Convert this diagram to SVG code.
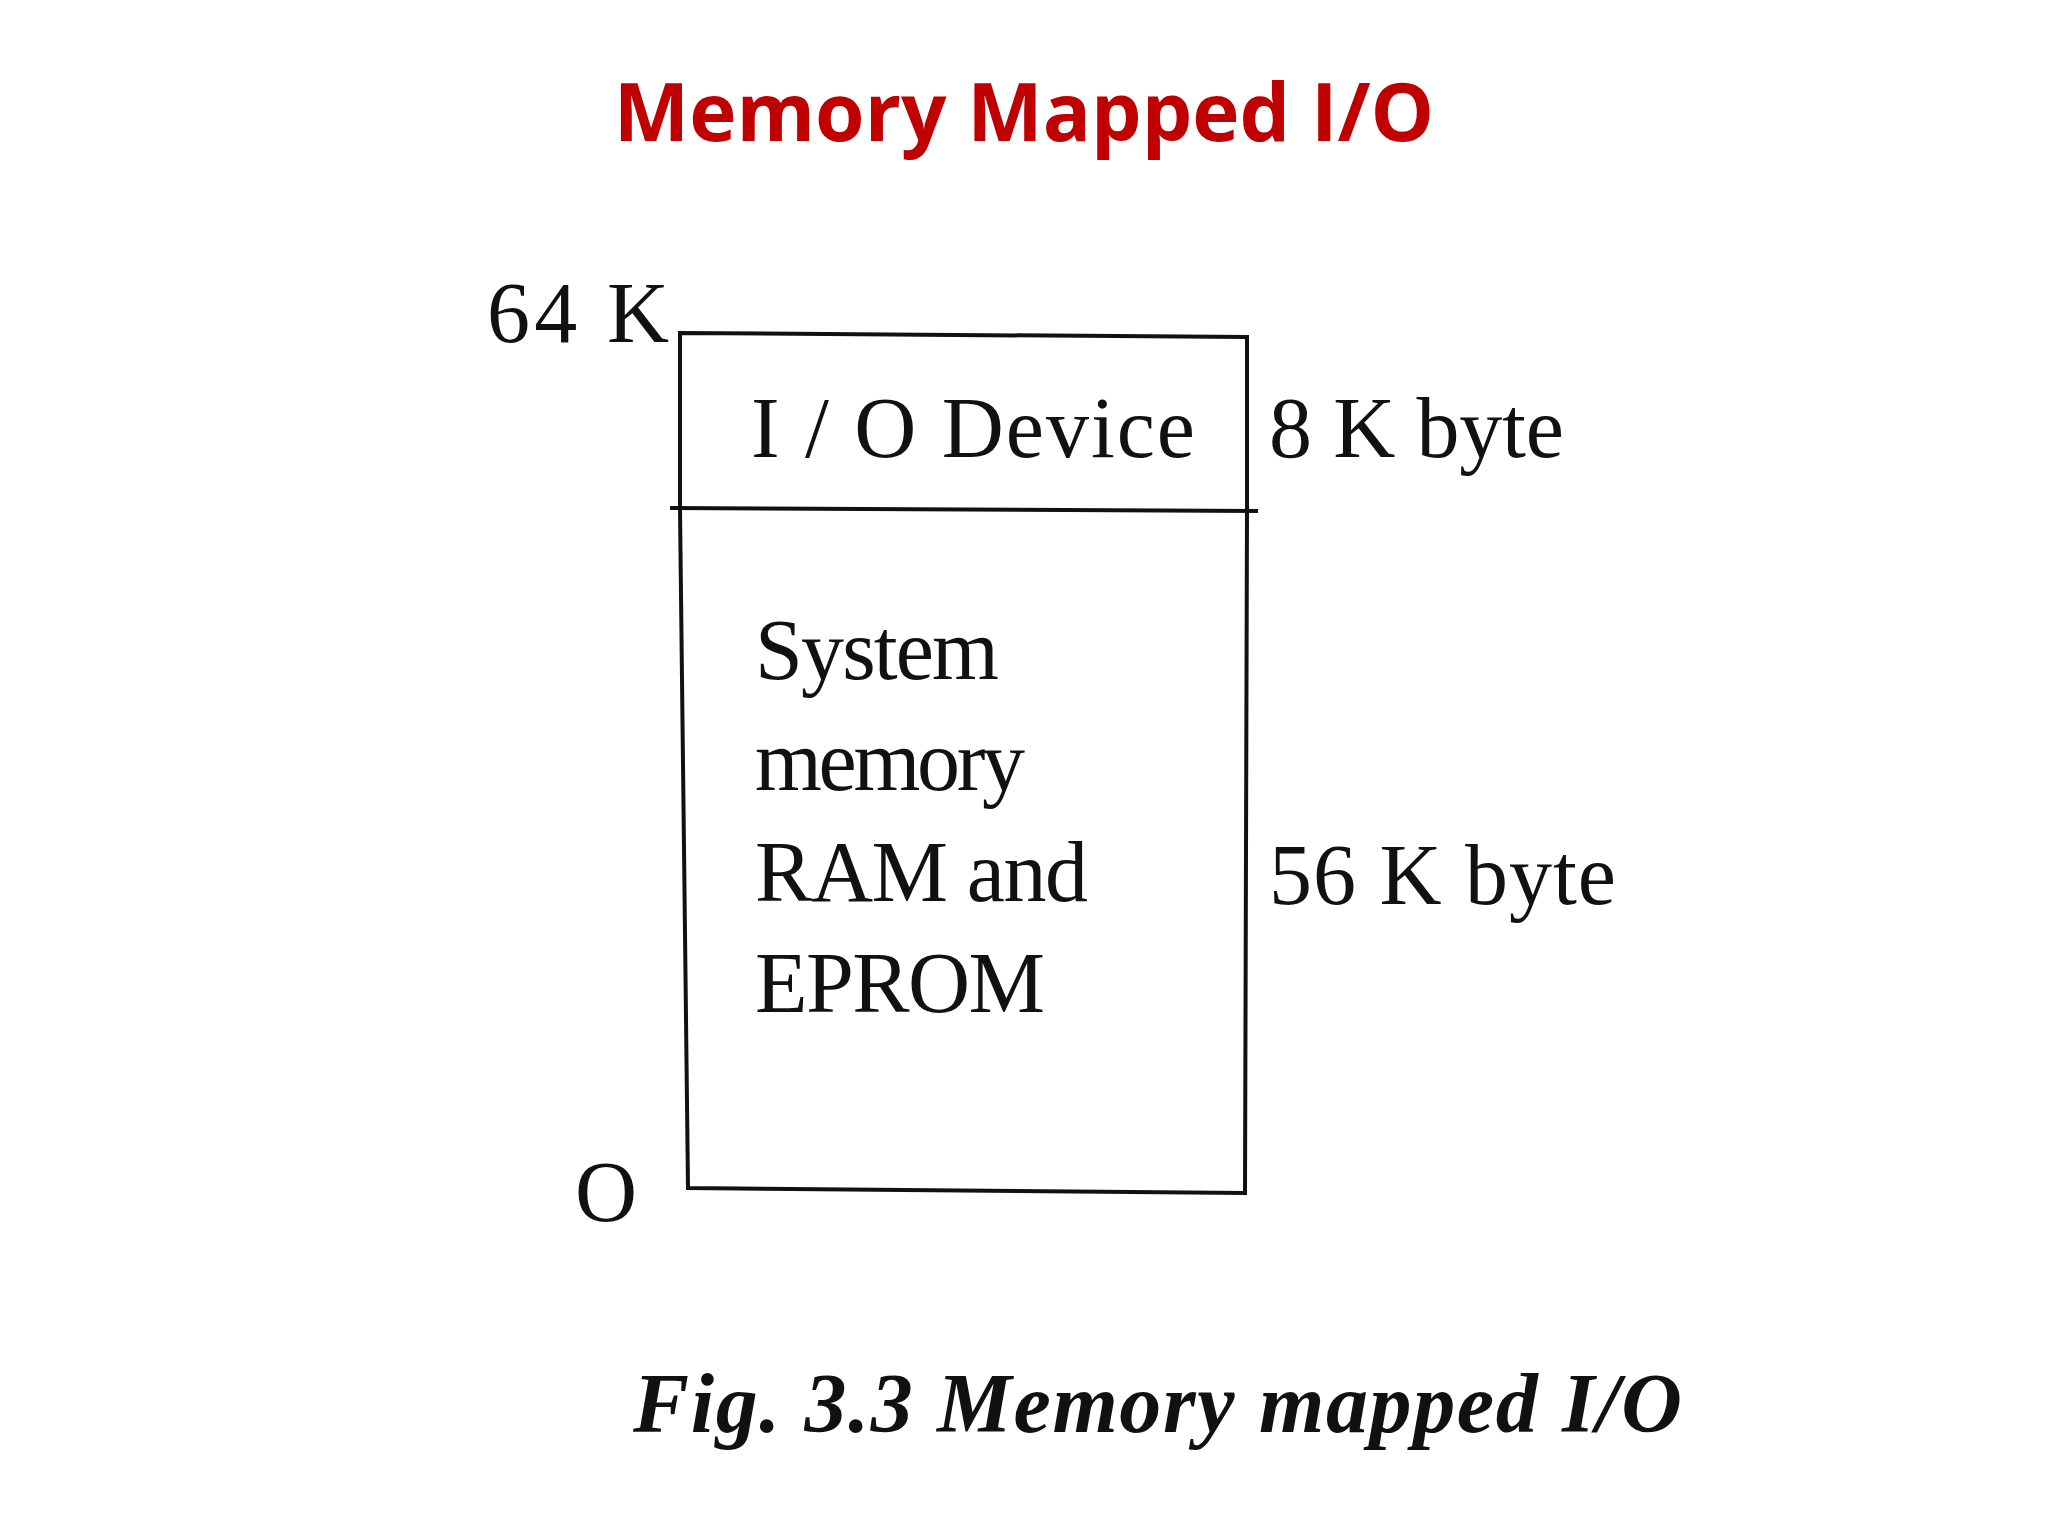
<svg xmlns="http://www.w3.org/2000/svg" width="2048" height="1536" viewBox="0 0 2048 1536">
<style>
.t{font-family:"Liberation Serif","Times New Roman",serif;font-size:86px;fill:#111}
.title{font-family:"Open Sans","Liberation Sans",sans-serif;font-size:80px;font-weight:bold;fill:#C00000}
.cap{font-family:"Liberation Serif",serif;font-size:84px;font-weight:bold;font-style:italic;fill:#111}
.ln{stroke:#111;stroke-width:4;fill:none}
</style>
<rect width="2048" height="1536" fill="#fff"/>
<text class="title" x="1024" y="141" text-anchor="middle">Memory Mapped I/O</text>
<g id="labels-left">
<text class="t" x="487" y="342" textLength="182">64 K</text>
<text class="t" x="575" y="1221">O</text>
</g>
<g id="io-device">
<polyline class="ln" points="680,509 680,333 1247,337 1247,509"/>
<text class="t" x="751" y="457" textLength="444">I / O Device</text>
<text class="t" x="1269" y="457" textLength="295">8 K byte</text>
</g>
<g id="system-memory">
<polyline class="ln" points="680,509 688,1188 1245,1193 1247,509"/>
<text class="t" x="755" y="679" textLength="244">System</text>
<text class="t" x="755" y="790" textLength="270">memory</text>
<text class="t" x="755" y="901" textLength="333">RAM and</text>
<text class="t" x="755" y="1012" textLength="290">EPROM</text>
<text class="t" x="1269" y="904" textLength="347">56 K byte</text>
</g>
<g id="connectors">
<line class="ln" x1="670" y1="508" x2="1258" y2="511"/>
</g>
<text class="cap" x="633" y="1432" textLength="1049">Fig. 3.3 Memory mapped I/O</text>
</svg>
